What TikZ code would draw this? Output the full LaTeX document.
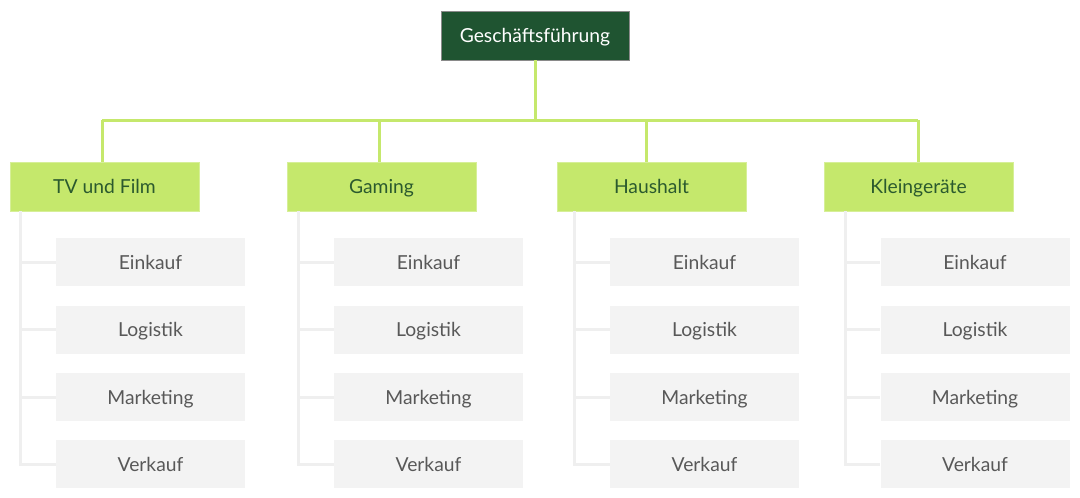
\documentclass[tikz,border=0pt]{standalone}
\usepackage{fontspec}
\setmainfont{Lato}
\definecolor{topfill}{HTML}{1F5431}
\definecolor{topdraw}{HTML}{8A8A8A}
\definecolor{catfill}{HTML}{C5E86C}
\definecolor{cattext}{HTML}{2B5A2E}
\definecolor{subfill}{HTML}{F3F3F3}
\definecolor{subtext}{HTML}{585858}
\definecolor{treeline}{HTML}{EFEFEF}
\begin{document}
\begin{tikzpicture}[x=1pt,y=-1pt,
  txt/.style={font=\fontsize{19.3}{22}\selectfont,text height=14pt,text depth=0pt,inner sep=0pt},
  topbox/.style={txt,draw=topdraw,line width=0.8pt,fill=topfill,text=white,minimum width=188pt,minimum height=49pt},
  catbox/.style={txt,fill=catfill,draw=catfill!70!white,line width=0.6pt,text=cattext,minimum width=189pt,minimum height=49pt},
  subbox/.style={txt,fill=subfill,text=subtext,minimum width=189pt,minimum height=48pt},
  greenline/.style={draw=catfill,line width=3pt},
  grayline/.style={draw=treeline,line width=3pt}]
\useasboundingbox[fill=white] (0,0) rectangle (1080,498);
\node[topbox] (top) at (535,35.5) {Geschäftsführung};
\coordinate (hub) at (535,120);
% categories
\node[catbox] (c1) at (104.5,186.5) {TV und Film};
\node[catbox] (c2) at (381.5,186.5) {Gaming};
\node[catbox] (c3) at (651.5,186.5) {Haushalt};
\node[catbox] (c4) at (918.5,186.5) {Kleingeräte};
\draw[greenline] (top.south) -- (hub);
\coordinate (h1) at (102,120);
\coordinate (h2) at (379,120);
\coordinate (h3) at (646,120);
\coordinate (h4) at (918,120);
\draw[greenline] (h1) -- (h4);
\draw[greenline] (h1) -- (c1.north -| h1);
\draw[greenline] (h2) -- (c2.north -| h2);
\draw[greenline] (h3) -- (c3.north -| h3);
\draw[greenline] (h4) -- (c4.north -| h4);
% sub boxes
\foreach \i/\sx/\lx in {1/150.5/20, 2/428.5/298, 3/704.5/574, 4/975/845}{
  \node[subbox] (e\i) at (\sx,262) {Einkauf};
  \node[subbox] (l\i) at (\sx,329.5) {Logistik};
  \node[subbox] (m\i) at (\sx,397) {Marketing};
  \node[subbox] (v\i) at (\sx,464) {Verkauf};
  \coordinate (t\i) at (\lx,210);
  \draw[grayline] (c\i.south -| t\i) -- (v\i.west -| t\i) -- (v\i.west);
  \draw[grayline] (e\i.west -| t\i) -- (e\i.west);
  \draw[grayline] (l\i.west -| t\i) -- (l\i.west);
  \draw[grayline] (m\i.west -| t\i) -- (m\i.west);
}
\end{tikzpicture}
\end{document}
